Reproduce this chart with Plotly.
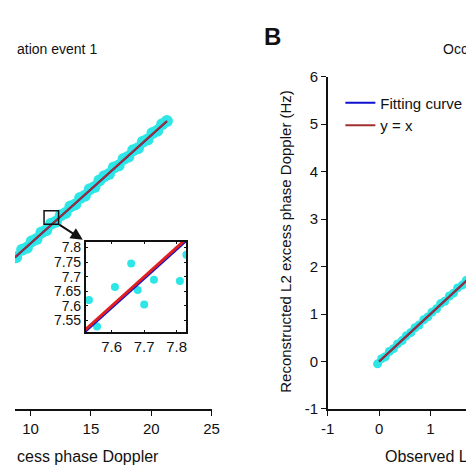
import plotly.graph_objects as go

W = H = 474

# panel A (main, only the right part is visible)
a_x = [8.8, 9.3, 9.7, 10.1, 10.5, 10.9, 11.3, 11.7, 12.1, 12.5, 12.9, 13.3, 13.7,
       14.1, 14.5, 14.9, 15.3, 15.7, 16.1, 16.5, 16.9, 17.3, 17.7, 18.1, 18.5,
       18.9, 19.3, 19.7, 20.1, 20.5, 20.9, 21.3]
a_y = [8.7, 9.4, 9.6, 10.2, 10.4, 11.0, 11.2, 11.8, 12.0, 12.6, 12.8, 13.4, 13.6,
       14.2, 14.4, 15.0, 15.2, 15.8, 16.2, 16.4, 17.0, 17.2, 17.8, 18.0, 18.6,
       18.8, 19.4, 19.6, 20.2, 20.4, 21.0, 21.3]
line_x = [8.7, 21.3]
fit_y = [8.69, 21.29]

# inset zoom
in_x = [7.53, 7.555, 7.61, 7.66, 7.68, 7.70, 7.73, 7.81, 7.83]
in_y = [7.62, 7.53, 7.665, 7.745, 7.655, 7.605, 7.69, 7.685, 7.775]
in_line = [7.5, 7.85]
in_fit = [7.495, 7.845]

# panel B (only the left part is visible)
b_x = [-0.03, 0.05, 0.12, 0.2, 0.28, 0.36, 0.45, 0.53, 0.62, 0.7, 0.78, 0.87,
       0.95, 1.03, 1.12, 1.2, 1.28, 1.37, 1.45, 1.53, 1.62, 1.7, 1.78, 1.86]
b_y = [-0.05, 0.06, 0.1, 0.21, 0.27, 0.37, 0.44, 0.54, 0.61, 0.71, 0.77, 0.88,
       0.94, 1.04, 1.11, 1.22, 1.27, 1.38, 1.44, 1.55, 1.61, 1.71, 1.77, 1.87]
b_line = [0, 1.9]
b_fit = [0, 1.9]

def px(v):
    return v / W

def py(v):
    return 1 - v / H

FAM = "Liberation Sans, Arial"
font = dict(family=FAM, size=15, color="#111")
small = dict(family=FAM, size=14, color="#111")
cyan = "#2ee6e6"
fig = go.Figure()

fig.add_trace(go.Scatter(x=a_x, y=a_y, mode="markers", marker=dict(color=cyan, size=12),
                         showlegend=False, xaxis="x", yaxis="y"))
fig.add_trace(go.Scatter(x=line_x, y=fit_y, mode="lines", line=dict(color="#1010d0", width=2),
                         showlegend=False, xaxis="x", yaxis="y"))
fig.add_trace(go.Scatter(x=line_x, y=line_x, mode="lines", line=dict(color="#a03030", width=2),
                         showlegend=False, xaxis="x", yaxis="y"))

fig.add_trace(go.Scatter(x=in_x, y=in_y, mode="markers", marker=dict(color=cyan, size=8),
                         showlegend=False, xaxis="x2", yaxis="y2"))
fig.add_trace(go.Scatter(x=in_line, y=in_fit, mode="lines", line=dict(color="#1010d0", width=3),
                         showlegend=False, xaxis="x2", yaxis="y2"))
fig.add_trace(go.Scatter(x=in_line, y=in_line, mode="lines", line=dict(color="#e02020", width=3),
                         showlegend=False, xaxis="x2", yaxis="y2"))

fig.add_trace(go.Scatter(x=b_x, y=b_y, mode="markers", marker=dict(color=cyan, size=9),
                         showlegend=False, xaxis="x3", yaxis="y3"))
fig.add_trace(go.Scatter(x=b_line, y=b_fit, mode="lines", line=dict(color="#1010d0", width=2),
                         name="Fitting curve", xaxis="x3", yaxis="y3"))
fig.add_trace(go.Scatter(x=b_line, y=b_line, mode="lines", line=dict(color="#a03030", width=2),
                         name="y = x", xaxis="x3", yaxis="y3"))

ax = dict(showgrid=False, zeroline=False, showline=True, linecolor="#111", linewidth=1.5,
          ticks="outside", tickcolor="#111", ticklen=5, tickfont=font)

fig.update_layout(
    width=W, height=H, margin=dict(l=0, r=0, t=0, b=0),
    paper_bgcolor="white", plot_bgcolor="rgba(0,0,0,0)", font=font,
    xaxis=dict(ax, domain=[0, px(203)], range=[8.71, 25], tickvals=[10, 15, 20, 25],
               anchor="y"),
    yaxis=dict(domain=[py(407), py(62)], range=[-5.36, 25.4], visible=False, anchor="x"),
    xaxis2=dict(ax, domain=[px(73), px(177)], range=[7.52, 7.83], tickvals=[7.6, 7.7, 7.8],
                ticks="inside", mirror="ticks", anchor="y2", ticklen=3, tickfont=font),
    yaxis2=dict(ax, domain=[py(327), py(233)], range=[7.51, 7.82],
                tickvals=[7.55, 7.6, 7.65, 7.7, 7.75, 7.8],
                ticktext=["7.55", "7.6", "7.65", "7.7", "7.75", "7.8"],
                ticks="inside", mirror="ticks", anchor="x2", ticklen=3, tickfont=small),
    xaxis3=dict(ax, domain=[px(323), 1], range=[-1, 1.85], tickvals=[-1, 0, 1, 2],
                ticktext=["-1", "0", "1", "2"], anchor="y3"),
    yaxis3=dict(ax, domain=[py(407), py(62)], range=[-1.01, 6], tickvals=list(range(-1, 7)),
                ticktext=[str(v) for v in range(-1, 7)], anchor="x3"),
    legend=dict(x=px(336), y=py(72), xanchor="left", yanchor="top", font=font,
                bgcolor="rgba(0,0,0,0)", tracegroupgap=0, itemwidth=30),
)

fig.add_shape(type="rect", x0=px(30), x1=px(45), y0=py(215), y1=py(201), xref="paper", yref="paper",
              line=dict(color="#111", width=1.5))
fig.add_annotation(x=px(70), y=py(231), ax=-25, ay=-16, xref="paper", yref="paper",
                   showarrow=True, arrowhead=2, arrowsize=1.2,
                   arrowwidth=2, arrowcolor="#111", text="")

texts = [
    ("ation event 1", 0, 33, 14, False),
    ("cess phase Doppler", 0, 456, 16, False),
    ("Observed L2", 380, 456, 16, False),
    ("Occu", 440, 33, 14, False),
    ("B", 255, 20, 24, True),
]
for t, x, y, s, b in texts:
    fig.add_annotation(x=px(x), y=py(y), xref="paper", yref="paper", xanchor="left", yanchor="middle",
                       text=f"<b>{t}</b>" if b else t, showarrow=False,
                       font=dict(family=FAM, size=s, color="#111"))
fig.add_annotation(x=px(280), y=py(233), xref="paper", yref="paper", textangle=-90,
                   text="Reconstructed L2 excess phase Doppler (Hz)", showarrow=False,
                   font=dict(family=FAM, size=15, color="#111"))

fig.write_html("out.html")
